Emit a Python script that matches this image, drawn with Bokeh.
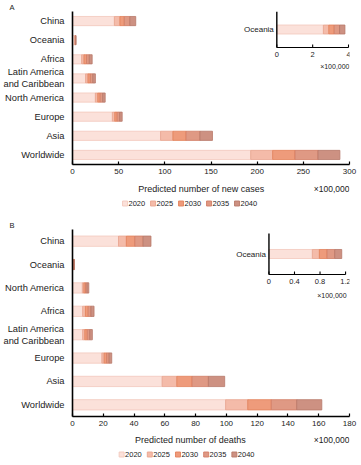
import math
from bokeh.plotting import figure
from bokeh.models import ColumnDataSource, Range1d, FixedTicker
from bokeh.core.properties import value
from bokeh.layouts import column
from bokeh.embed import file_html
from bokeh.resources import INLINE

FONT = "Liberation Sans"
TXT = "#222222"

years = ["2020", "2025", "2030", "2035", "2040"]
fills = ["#fbe1da", "#f4bba9", "#ee9b7b", "#df9984", "#cd9182"]
edges = ["#f3c8bc", "#e9a58f", "#e3815b", "#d27e66", "#b8796a"]

# ---------------- Panel A: new cases (x100,000) ----------------
cats_a = ["China", "Oceania", "Africa", "Latin America\nand Caribbean",
          "North America", "Europe", "Asia", "Worldwide"]
cases_2020 = [45.4, 2.6, 9.9, 14.2, 24.8, 43.2, 95.4, 193.0]
cases_2025 = [51.4, 2.9, 12.5, 16.8, 27.4, 45.8, 108.8, 216.8]
cases_2030 = [56.1, 3.2, 15.2, 19.4, 30.0, 48.4, 123.0, 241.0]
cases_2035 = [62.1, 3.5, 18.2, 22.0, 32.7, 51.1, 138.0, 265.9]
cases_2040 = [68.5, 3.8, 21.3, 24.8, 35.4, 53.8, 151.6, 289.6]
ticks_a = [0, 50, 100, 150, 200, 250, 300]
inset_ticks_a = [0, 2, 4]

# ---------------- Panel B: deaths (x100,000) ----------------
cats_b = ["China", "Oceania", "North America", "Africa",
          "Latin America\nand Caribbean", "Europe", "Asia", "Worldwide"]
deaths_2020 = [29.9, 0.68, 6.4, 6.6, 6.6, 19.1, 58.3, 99.5]
deaths_2025 = [35.0, 0.79, 7.4, 8.4, 8.0, 20.6, 67.8, 113.9]
deaths_2030 = [40.5, 0.91, 8.5, 10.2, 9.6, 22.2, 77.7, 129.2]
deaths_2035 = [45.9, 1.03, 9.5, 12.0, 11.2, 23.8, 88.3, 145.7]
deaths_2040 = [51.0, 1.14, 10.6, 14.0, 12.9, 25.5, 98.9, 162.0]
ticks_b = [0, 20, 40, 60, 80, 100, 120, 140, 160, 180]
inset_ticks_b = [0, 0.4, 0.8, 1.2]

unit_label = "\u00d7100,000"

WIDTH = 357
BORDER_L = 67
BORDER_R = 8
FRAME_W = WIDTH - BORDER_L - BORDER_R


def cat_positions(cats):
    n = len(cats)
    return [n - 1 - i for i in range(n)]


def add_bars(p, cats, series, bh, **kw):
    pos = cat_positions(cats)
    prev = [0] * len(cats)
    for k, vals in enumerate(series):
        src = ColumnDataSource(dict(y=pos, left=prev, right=vals))
        p.hbar(y="y", left="left", right="right", height=bh, source=src,
               fill_color=fills[k], line_color=edges[k], line_width=0.8, **kw)
        prev = vals


def add_inset(p, frame_h, cat, vals, ticks, px0, pxlen, top_px, inset_h, bh,
              unit_dy):
    """Inset drawn inside the main frame through its own extra ranges."""
    t0, t1 = ticks[0], ticks[-1]
    sx = (t1 - t0) / pxlen
    sy = 1.0 / inset_h
    p.extra_x_ranges = {"ix": Range1d(t0 - px0 * sx, t1 + (FRAME_W - px0 - pxlen) * sx)}
    p.extra_y_ranges = {"iy": Range1d(-0.5 - (frame_h - top_px - inset_h) * sy,
                                      0.5 + top_px * sy)}
    kw = dict(x_range_name="ix", y_range_name="iy")
    add_bars(p, [cat], [[v] for v in vals], bh, **kw)
    p.segment(x0=[t0], y0=[-0.5], x1=[t0], y1=[0.5], line_color="black",
              line_width=1.4, **kw)
    p.segment(x0=[t0], y0=[-0.5], x1=[t1], y1=[-0.5], line_color="black",
              line_width=1.2, **kw)
    p.ray(x=ticks, y=[-0.5] * len(ticks), length=3, length_units="screen",
          angle=math.pi / 2, line_color="black", line_width=1.1, **kw)
    p.text(x=ticks, y=[-0.5] * len(ticks), text=[f"{t:g}" for t in ticks],
           y_offset=4, text_align="center", text_baseline="top",
           text_font=value(FONT), text_font_size="7.5px", text_color=TXT, **kw)
    p.text(x=[t0], y=[0], text=[cat], x_offset=-3, text_align="right",
           text_baseline="middle", text_font=value(FONT), text_font_size="8px",
           text_color=TXT, **kw)
    p.text(x=[t1], y=[-0.5], text=[unit_label], x_offset=1, y_offset=unit_dy,
           text_align="right", text_baseline="middle", text_font=value(FONT),
           text_font_size="7px", text_color=TXT, **kw)


def main_panel(letter, cats, series, ticks, top_border, frame_h, bh, inset):
    n = len(cats)
    p = figure(width=WIDTH, frame_height=frame_h,
               y_range=Range1d(-0.5, n - 0.5),
               x_range=Range1d(ticks[0], ticks[-1]),
               output_backend="svg", toolbar_location=None,
               min_border_left=BORDER_L, min_border_right=BORDER_R,
               min_border_top=top_border, min_border_bottom=16)
    p.xgrid.visible = False
    p.ygrid.visible = False
    p.outline_line_color = None
    p.title.text = letter
    p.title.align = "left"
    p.title.offset = -BORDER_L + 4
    p.title.standoff = 0
    p.title.text_font = FONT
    p.title.text_font_size = "7.5px"
    p.title.text_font_style = "normal"
    p.title.text_color = TXT
    add_bars(p, cats, series, bh)
    add_inset(p, frame_h, *inset)

    ax = p.xaxis[0]
    ax.ticker = FixedTicker(ticks=ticks)
    ax.axis_line_color = "black"
    ax.axis_line_width = 1.3
    ax.major_tick_line_color = "black"
    ax.major_tick_line_width = 1.2
    ax.major_tick_in = 3
    ax.major_tick_out = 0
    ax.minor_tick_line_color = None
    ax.major_label_text_font = FONT
    ax.major_label_text_font_size = "8px"
    ax.major_label_text_color = TXT
    ax.major_label_standoff = 4

    pos = cat_positions(cats)
    ay = p.yaxis[0]
    ay.ticker = FixedTicker(ticks=pos)
    ay.major_label_overrides = {q: c for q, c in zip(pos, cats)}
    ay.axis_line_color = "black"
    ay.axis_line_width = 1.6
    ay.major_tick_line_color = None
    ay.minor_tick_line_color = None
    ay.major_label_text_font = FONT
    ay.major_label_text_font_size = "9.3px"
    ay.major_label_text_color = TXT
    ay.major_label_standoff = 2
    return p


def footer_panel(xlabel, h, title_x, title_y, legend_x, legend_y, step):
    """Axis title, unit and legend keys below a main panel.
    The column aligns this frame with the main frame, so x is in page pixels."""
    f = figure(width=WIDTH, height=h,
               x_range=Range1d(BORDER_L, WIDTH - BORDER_R), y_range=Range1d(h, 0),
               x_axis_location=None, y_axis_location=None,
               output_backend="svg", toolbar_location=None,
               min_border_left=BORDER_L, min_border_right=BORDER_R,
               min_border_top=0, min_border_bottom=0)
    f.xgrid.visible = False
    f.ygrid.visible = False
    f.outline_line_color = None
    f.text(x=[title_x], y=[title_y], text=[xlabel], text_align="center",
           text_baseline="middle", text_font=value(FONT), text_font_size="9px",
           text_color=TXT)
    f.text(x=[WIDTH - BORDER_R], y=[title_y], text=[unit_label], text_align="right",
           text_baseline="middle", text_font=value(FONT), text_font_size="8.5px",
           text_color=TXT)
    kx = [legend_x + k * step for k in range(len(years))]
    f.scatter(x=kx, y=[legend_y] * len(years), marker="square", size=5,
              fill_color=fills, line_color=edges, line_width=0.9)
    f.text(x=[x + 3.5 for x in kx], y=[legend_y] * len(years), text=years,
           text_align="left", text_baseline="middle", text_font=value(FONT),
           text_font_size="7.5px", text_color=TXT)
    return f


series_a = [cases_2020, cases_2025, cases_2030, cases_2035, cases_2040]
series_b = [deaths_2020, deaths_2025, deaths_2030, deaths_2035, deaths_2040]

oce_a = [s[cats_a.index("Oceania")] for s in series_a]
oce_b = [s[cats_b.index("Oceania")] for s in series_b]

main_a = main_panel("A", cats_a, series_a, ticks_a, 10, 153, 0.48,
                    ("Oceania", oce_a, inset_ticks_a, 208, 73, 0, 36, 0.25, 19))
foot_a = footer_panel("Predicted number of new cases", 30, 198, 8, 120.5, 23, 28.5)
main_b = main_panel("B", cats_b, series_b, ticks_b, 19, 187, 0.44,
                    ("Oceania", oce_b, inset_ticks_b, 200, 78, 4, 41, 0.22, 21))
foot_b = footer_panel("Predicted number of deaths", 28, 187, 7, 117, 22, 28.7)

layout = column(main_a, foot_a, main_b, foot_b, spacing=0)

open("out.html", "w").write(file_html(layout, INLINE))
